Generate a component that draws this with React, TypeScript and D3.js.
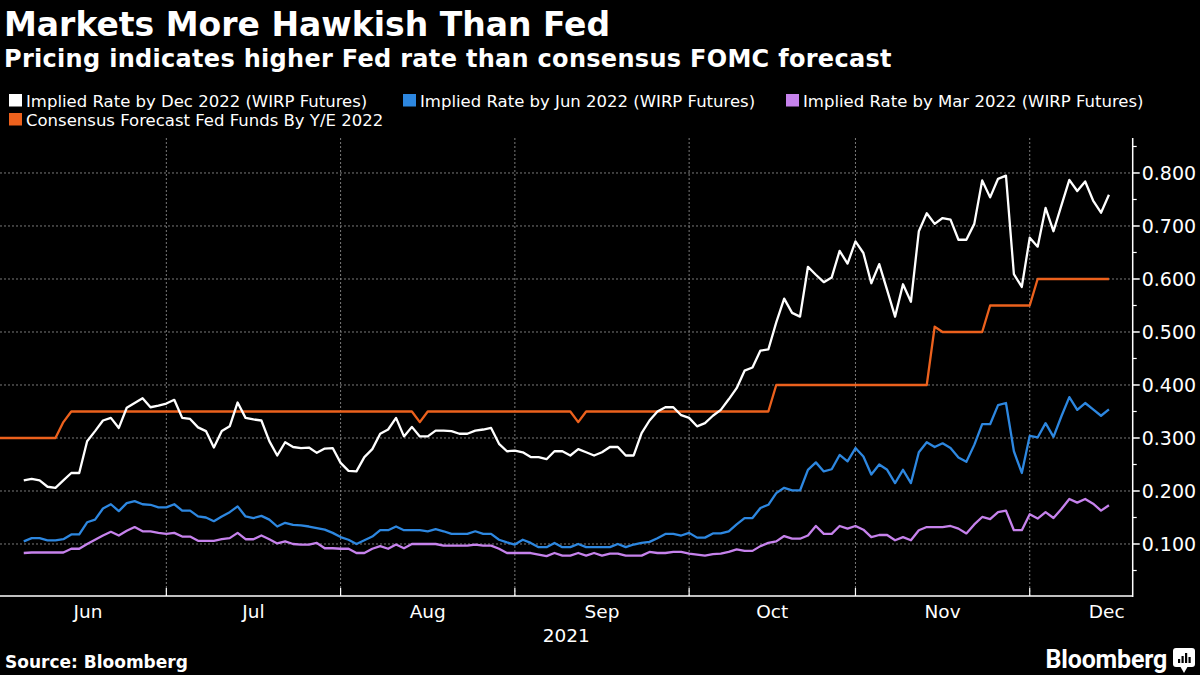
import React, { useEffect, useRef } from 'react';
import * as d3 from 'd3';

// x axis runs on trading days (weekdays), like the Bloomberg terminal chart
const FIRST_DAY = new Date(2021, 5, 2);
const LAST_DAY = new Date(2021, 11, 20);
const SERIES_START = new Date(2021, 5, 7);

// Implied Rate by Dec 2022 (WIRP Futures), daily from Jun 7 to Dec 15 2021
const dec2022 = [
  0.220, 0.223, 0.220, 0.208, 0.206, 0.220, 0.234, 0.234, 0.294, 0.313,
  0.333, 0.338, 0.319, 0.357, 0.366, 0.375, 0.358, 0.361, 0.365, 0.372,
  0.338, 0.336, 0.320, 0.313, 0.282, 0.313, 0.322, 0.367, 0.338, 0.335,
  0.333, 0.294, 0.267, 0.292, 0.283, 0.281, 0.282, 0.272, 0.280, 0.281,
  0.253, 0.238, 0.237, 0.264, 0.279, 0.308, 0.316, 0.338, 0.303, 0.321,
  0.303, 0.303, 0.314, 0.314, 0.313, 0.308, 0.308, 0.314, 0.316, 0.319,
  0.289, 0.275, 0.276, 0.273, 0.264, 0.264, 0.260, 0.275, 0.275, 0.267,
  0.279, 0.273, 0.267, 0.273, 0.283, 0.283, 0.267, 0.267, 0.309, 0.333,
  0.350, 0.358, 0.358, 0.343, 0.338, 0.322, 0.328, 0.342, 0.353, 0.373,
  0.394, 0.427, 0.433, 0.465, 0.467, 0.518, 0.563, 0.536, 0.529, 0.623,
  0.608, 0.594, 0.603, 0.653, 0.629, 0.671, 0.649, 0.592, 0.628, 0.579,
  0.529, 0.590, 0.557, 0.690, 0.724, 0.704, 0.715, 0.712, 0.674, 0.674,
  0.704, 0.786, 0.754, 0.789, 0.795, 0.609, 0.585, 0.678, 0.661, 0.734,
  0.690, 0.739, 0.787, 0.766, 0.784, 0.748, 0.725, 0.759,
];

// Implied Rate by Jun 2022 (WIRP Futures)
const jun2022 = [
  0.105, 0.111, 0.111, 0.107, 0.107, 0.109, 0.118, 0.118, 0.141, 0.146,
  0.167, 0.175, 0.162, 0.177, 0.181, 0.175, 0.174, 0.169, 0.169, 0.175,
  0.163, 0.163, 0.152, 0.150, 0.143, 0.152, 0.160, 0.171, 0.152, 0.149,
  0.153, 0.146, 0.133, 0.140, 0.136, 0.135, 0.133, 0.130, 0.127, 0.121,
  0.113, 0.108, 0.100, 0.107, 0.114, 0.126, 0.126, 0.133, 0.126, 0.126,
  0.126, 0.124, 0.128, 0.124, 0.119, 0.119, 0.119, 0.124, 0.119, 0.119,
  0.108, 0.103, 0.099, 0.108, 0.102, 0.094, 0.094, 0.102, 0.094, 0.094,
  0.100, 0.094, 0.094, 0.094, 0.094, 0.100, 0.094, 0.099, 0.102, 0.104,
  0.111, 0.119, 0.119, 0.116, 0.121, 0.112, 0.112, 0.120, 0.120, 0.124,
  0.137, 0.149, 0.149, 0.168, 0.174, 0.196, 0.206, 0.201, 0.201, 0.240,
  0.254, 0.237, 0.241, 0.268, 0.256, 0.281, 0.265, 0.231, 0.250, 0.240,
  0.215, 0.240, 0.215, 0.273, 0.292, 0.283, 0.290, 0.281, 0.263, 0.255,
  0.287, 0.326, 0.326, 0.362, 0.366, 0.275, 0.234, 0.304, 0.301, 0.328,
  0.302, 0.341, 0.377, 0.353, 0.366, 0.354, 0.342, 0.354,
];

// Implied Rate by Mar 2022 (WIRP Futures)
const mar2022 = [
  0.083, 0.084, 0.084, 0.084, 0.084, 0.084, 0.091, 0.091, 0.100, 0.108,
  0.116, 0.123, 0.116, 0.125, 0.132, 0.124, 0.124, 0.121, 0.119, 0.121,
  0.114, 0.114, 0.106, 0.106, 0.106, 0.109, 0.111, 0.121, 0.109, 0.109,
  0.116, 0.109, 0.101, 0.105, 0.100, 0.099, 0.099, 0.102, 0.092, 0.092,
  0.091, 0.091, 0.083, 0.083, 0.091, 0.096, 0.091, 0.099, 0.092, 0.100,
  0.100, 0.100, 0.100, 0.097, 0.097, 0.097, 0.097, 0.099, 0.097, 0.097,
  0.091, 0.083, 0.083, 0.083, 0.083, 0.080, 0.077, 0.083, 0.078, 0.078,
  0.083, 0.078, 0.083, 0.078, 0.082, 0.082, 0.078, 0.078, 0.078, 0.085,
  0.083, 0.083, 0.085, 0.085, 0.082, 0.080, 0.078, 0.081, 0.082, 0.085,
  0.090, 0.087, 0.087, 0.096, 0.102, 0.105, 0.115, 0.110, 0.110, 0.116,
  0.134, 0.119, 0.119, 0.134, 0.129, 0.134, 0.127, 0.113, 0.117, 0.117,
  0.107, 0.113, 0.107, 0.126, 0.132, 0.132, 0.132, 0.134, 0.129, 0.120,
  0.137, 0.151, 0.147, 0.160, 0.163, 0.126, 0.126, 0.156, 0.148, 0.160,
  0.149, 0.166, 0.185, 0.178, 0.185, 0.176, 0.163, 0.173,
];

// Consensus Forecast Fed Funds By Y/E 2022 (changes only)
const consensus: [string, number][] = [
  ['2021-06-02', 0.30], ['2021-06-11', 0.30], ['2021-06-14', 0.33], ['2021-06-15', 0.35],
  ['2021-08-13', 0.35], ['2021-08-16', 0.33], ['2021-08-17', 0.35],
  ['2021-09-10', 0.35], ['2021-09-13', 0.33], ['2021-09-14', 0.35],
  ['2021-10-15', 0.35], ['2021-10-18', 0.40],
  ['2021-11-12', 0.40], ['2021-11-15', 0.51], ['2021-11-16', 0.50],
  ['2021-11-23', 0.50], ['2021-11-24', 0.55],
  ['2021-12-01', 0.55], ['2021-12-02', 0.60], ['2021-12-15', 0.60],
];

const yTicks = [0.1, 0.2, 0.3, 0.4, 0.5, 0.6, 0.7, 0.8];
const yMinorTicks = [0.05, 0.15, 0.25, 0.35, 0.45, 0.55, 0.65, 0.75, 0.85];
const monthLabels = ['Jun', 'Jul', 'Aug', 'Sep', 'Oct', 'Nov', 'Dec'];
const yearLabel = '2021';

const legendLabels = [
  'Implied Rate by Dec 2022 (WIRP Futures)',
  'Implied Rate by Jun 2022 (WIRP Futures)',
  'Implied Rate by Mar 2022 (WIRP Futures)',
  'Consensus Forecast Fed Funds By Y/E 2022',
];

const COLORS = {
  dec: '#ffffff',
  jun: '#2d87e0',
  mar: '#c682ec',
  cons: '#ec611d',
  grid: '#7a7a7a',
};

const W = 1200;
const H = 675;
const plot = { left: 0, right: 1132.7, top: 138, bottom: 597 };
const SANS = "'DejaVu Sans', sans-serif";

const isWeekday = (d: Date) => d.getDay() !== 0 && d.getDay() !== 6;

// position of a date counted in weekdays from FIRST_DAY
const tIndex = (d: Date) =>
  d >= FIRST_DAY
    ? d3.timeDay.range(FIRST_DAY, d).filter(isWeekday).length
    : -d3.timeDay.range(d, FIRST_DAY).filter(isWeekday).length;

export default function App() {
  const svgRef = useRef<SVGSVGElement>(null);

  useEffect(() => {
    if (!svgRef.current) return;
    const svg = d3.select(svgRef.current);
    svg.selectAll('*').remove();

    const parse = d3.timeParse('%Y-%m-%d');
    const x = d3.scaleLinear().domain([0, tIndex(LAST_DAY)]).range([plot.left, plot.right]);
    const y = d3.scaleLinear().domain([0, 0.866]).range([plot.bottom, plot.top]);

    svg.append('rect').attr('width', W).attr('height', H).attr('fill', '#000');

    // titles
    svg.append('text').attr('x', 4).attr('y', 36).attr('fill', '#fff')
      .attr('font-family', SANS).attr('font-weight', 'bold').attr('font-size', 33)
      .text('Markets More Hawkish Than Fed');
    svg.append('text').attr('x', 4).attr('y', 67).attr('fill', '#fff')
      .attr('font-family', SANS).attr('font-weight', 'bold').attr('font-size', 24)
      .attr('letter-spacing', 0.3)
      .text('Pricing indicates higher Fed rate than consensus FOMC forecast');

    // legend
    const legendColors = [COLORS.dec, COLORS.jun, COLORS.mar, COLORS.cons];
    const legendPos = [[9, 94], [403, 94], [786, 94], [9, 113]];
    legendLabels.forEach((label, i) => {
      const [lx, ly] = legendPos[i];
      svg.append('rect').attr('x', lx).attr('y', ly).attr('width', 13).attr('height', 12.5)
        .attr('fill', legendColors[i]);
      svg.append('text').attr('x', lx + 17).attr('y', ly + 12.5).attr('fill', '#fff')
        .attr('font-family', SANS).attr('font-size', 16.5).text(label);
    });

    // month boundaries
    const months = d3.timeMonth.range(new Date(2021, 5, 1), new Date(2022, 0, 2));
    const monthX = months.map((m) => x(tIndex(m)));

    // grid
    const grid = svg.append('g').attr('stroke', COLORS.grid).attr('stroke-width', 1)
      .attr('stroke-dasharray', '2,2');
    yTicks.forEach((t) => {
      grid.append('line').attr('x1', plot.left).attr('x2', plot.right)
        .attr('y1', y(t)).attr('y2', y(t));
    });
    monthX.slice(1, -1).forEach((mx) => {
      grid.append('line').attr('x1', mx).attr('x2', mx).attr('y1', plot.top).attr('y2', plot.bottom);
    });

    // lines
    const line = d3.line<[number, number]>().x((d) => x(d[0])).y((d) => y(d[1]));
    const start = tIndex(SERIES_START);
    const toPts = (vals: number[]) => vals.map((v, i) => [start + i, v] as [number, number]);
    const consPts = consensus.map(([d, v]) => [tIndex(parse(d)!), v] as [number, number]);

    const series: [[number, number][], string][] = [
      [consPts, COLORS.cons],
      [toPts(mar2022), COLORS.mar],
      [toPts(jun2022), COLORS.jun],
      [toPts(dec2022), COLORS.dec],
    ];
    series.forEach(([pts, color]) => {
      svg.append('path').attr('d', line(pts)).attr('fill', 'none').attr('stroke', color)
        .attr('stroke-width', 2.3).attr('stroke-linejoin', 'round');
    });

    // right axis
    const axis = svg.append('g').attr('stroke', '#fff');
    axis.append('line').attr('x1', plot.right).attr('x2', plot.right)
      .attr('y1', plot.top).attr('y2', plot.bottom).attr('stroke-width', 1.5);
    yTicks.forEach((t) => {
      axis.append('line').attr('x1', plot.right).attr('x2', plot.right + 7)
        .attr('y1', y(t)).attr('y2', y(t)).attr('stroke-width', 1.5);
    });
    yMinorTicks.forEach((t) => {
      axis.append('line').attr('x1', plot.right).attr('x2', plot.right + 4)
        .attr('y1', y(t)).attr('y2', y(t)).attr('stroke-width', 1.2);
    });
    const fmt = d3.format('.3f');
    yTicks.forEach((t) => {
      svg.append('text').attr('x', plot.right + 9).attr('y', y(t)).attr('dy', '0.36em')
        .attr('fill', '#fff').attr('font-family', SANS).attr('font-size', 19).text(fmt(t));
    });

    // bottom axis
    axis.append('line').attr('x1', plot.left).attr('x2', plot.right)
      .attr('y1', plot.bottom - 1).attr('y2', plot.bottom - 1).attr('stroke-width', 1.5);
    monthX.slice(1, -1).forEach((mx) => {
      axis.append('line').attr('x1', mx).attr('x2', mx)
        .attr('y1', plot.bottom - 9).attr('y2', plot.bottom - 1).attr('stroke-width', 1.2);
    });
    const labelInset = { left: 88, right: 26 };
    monthLabels.forEach((m, i) => {
      const mid = (monthX[i] + monthX[i + 1]) / 2;
      const cx = Math.max(plot.left + labelInset.left, Math.min(plot.right - labelInset.right, mid));
      svg.append('text').attr('x', cx).attr('y', 618).attr('text-anchor', 'middle')
        .attr('fill', '#fff').attr('font-family', SANS).attr('font-size', 18.5).text(m);
    });
    svg.append('text').attr('x', (plot.left + plot.right) / 2).attr('y', 642)
      .attr('text-anchor', 'middle').attr('fill', '#fff').attr('font-family', SANS)
      .attr('font-size', 18.5).text(yearLabel);

    // footer
    svg.append('text').attr('x', 5).attr('y', 668).attr('fill', '#fff')
      .attr('font-family', SANS).attr('font-weight', 'bold').attr('font-size', 17)
      .text('Source: Bloomberg');
    svg.append('text').attr('x', 1167).attr('y', 668).attr('text-anchor', 'end').attr('fill', '#fff')
      .attr('font-family', 'Roboto, sans-serif').attr('font-weight', 'bold').attr('font-size', 25)
      .attr('letter-spacing', -0.2).text('Bloomberg');
    const logo = svg.append('g').attr('transform', 'translate(1173,648)');
    logo.append('rect').attr('width', 22).attr('height', 19).attr('rx', 3).attr('fill', '#fff');
    logo.append('path').attr('d', 'M7,18 L11,25 L15,18 Z').attr('fill', '#fff');
    [[5, 11], [8.5, 8], [12, 5], [15.5, 9]].forEach(([bx, by]) => {
      logo.append('rect').attr('x', bx).attr('y', by).attr('width', 2.2).attr('height', 15 - by)
        .attr('fill', '#000');
    });
  }, []);

  return (
    <svg ref={svgRef} width={W} height={H}
      style={{ position: 'absolute', left: 0, top: 0, background: '#000' }} />
  );
}
